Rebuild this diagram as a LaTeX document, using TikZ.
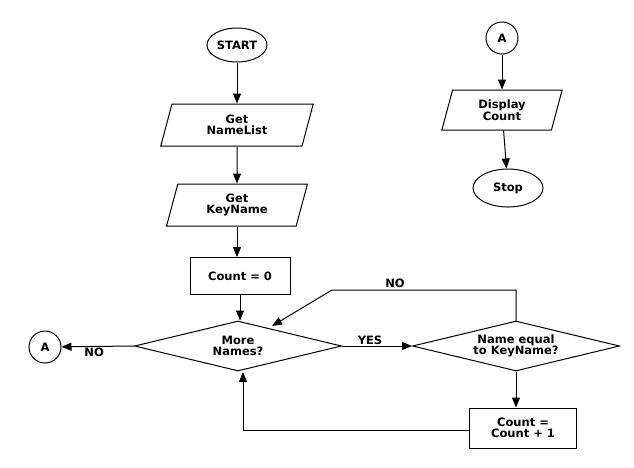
\documentclass[tikz,border=0pt]{standalone}
\usepackage{fontspec}
\setmainfont{DejaVu Sans}
\usetikzlibrary{shapes.geometric,arrows.meta}
\begin{document}
\begin{tikzpicture}[x=1pt,y=-1pt,
  every node/.style={font=\bfseries\fontsize{11.5}{11.5}\selectfont,align=center,draw,line width=1pt,inner sep=1pt},
  term/.style={ellipse,minimum width=60pt,minimum height=34pt,inner sep=0pt},
  io/.style={trapezium,trapezium left angle=75,trapezium right angle=105,minimum width=70pt,minimum height=42pt,inner xsep=4pt},
  proc/.style={rectangle,minimum width=100pt,minimum height=37pt},
  dec/.style={diamond,aspect=4.1,minimum width=207pt,minimum height=50pt,inner sep=0pt},
  conn/.style={circle,minimum size=32pt},
  lbl/.style={draw=none,fill=none},
  arr/.style={-{Triangle[length=10pt,width=8pt]},line width=1pt}]
\useasboundingbox (0,0) rectangle (634,467);
\node[term] (start) at (237,45) {START};
\node[io] (get1) at (237,125) {Get\\NameList};
\node[io] (get2) at (237,205) {Get\\KeyName};
\node[proc] (c0) at (240,276) {Count = 0};
\node[dec] (more) at (238,346) {More\\Names?};
\node[dec] (eq) at (516,346) {Name equal\\to KeyName?};
\node[proc,minimum width=107pt,minimum height=40pt] (inc) at (523,428) {Count =\\Count + 1};
\node[conn] (a1) at (45,347) {A};
\node[conn] (a2) at (502,38) {A};
\node[io,minimum height=40pt] (disp) at (502,110) {Display\\Count};
\node[term,minimum width=70pt,minimum height=38pt] (stop) at (508,188) {Stop};
\coordinate (n1) at (516,290);
\coordinate (n2) at (332,290);
\coordinate (n3) at (272,326);
\draw[arr] (start) -- (get1);
\draw[arr] (get1) -- (get2);
\draw[arr] (get2) -- (get2|-c0.north);
\draw[arr] (c0) -- (c0|-more.north);
\draw[arr] (more.east) -- node[lbl,above,pos=0.4]{YES} (eq.west);
\draw[arr] (more.west) -- node[lbl,below,pos=0.55]{NO} (a1);
\draw[arr] (eq.south) -- (eq.south|-inc.north);
\draw[arr] (eq.north) -- (n1) -- (n2) -- (n3);
\node[lbl] at (395,283) {NO};
\coordinate (b1) at (243,430);
\draw[arr] (inc.west|-b1) -- (b1) -- (243,372);
\draw[arr] (a2) -- (disp);
\draw[arr] (disp) -- (stop);
\end{tikzpicture}
\end{document}
